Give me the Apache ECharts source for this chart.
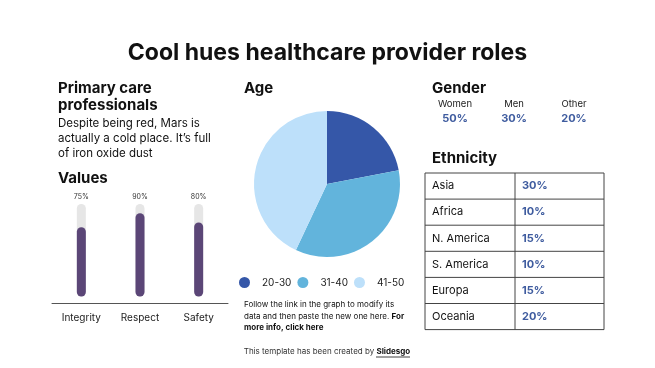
<!DOCTYPE html>
<html><head><meta charset="utf-8">
<script src="https://cdn.jsdelivr.net/npm/echarts@6/dist/echarts.min.js"></script>
<style>html,body{margin:0;padding:0;background:#fff}#c{width:655px;height:368px}</style>
</head><body><div id="c"></div>
<script>
const valueCategories = ['Integrity', 'Respect', 'Safety'];
const valueScores = [75, 90, 80];
const ageGroups = ['20-30', '31-40', '41-50'];
const ageShares = [22, 35, 43];
const genderLabels = ['Women', 'Men', 'Other'];
const genderShares = ['50%', '30%', '20%'];
const ethnicityNames = ['Asia', 'Africa', 'N. America', 'S. America', 'Europa', 'Oceania'];
const ethnicityShares = ['30%', '10%', '15%', '10%', '15%', '20%'];

const FONT = 'Inter';
const BLUE = '#3f5c9f';
const ageColors = ['#3557a8', '#62b4dc', '#bde0fa'];

const chart = echarts.init(document.getElementById('c'));
const graphics = [];
function txt(x, y, text, size, weight, color, align, extra) {
  graphics.push(Object.assign({
    type: 'text', x: x, y: y,
    style: Object.assign({text: text, font: (weight||'normal') + ' ' + size + 'px ' + FONT,
      fill: color || '#111', textAlign: align || 'left', textVerticalAlign: 'middle'}, extra || {})
  }));
}
// Left column
txt(58, 88, 'Primary care', 15, 'bold');
txt(58, 105, 'professionals', 15, 'bold');
txt(58, 124, 'Despite being red, Mars is', 11.5, 'normal');
txt(58, 139, 'actually a cold place. It\u2019s full', 11.5, 'normal');
txt(58, 154, 'of iron oxide dust', 11.5, 'normal');
txt(58, 178, 'Values', 15, 'bold');
// Age
txt(244, 88, 'Age', 15, 'bold');
graphics.push({type: 'text', x: 244, y: 299, style: {
  text: 'Follow the link in the graph to modify its\ndata and then paste the new one here. {b|For}\n{b|more info, click here}',
  font: 'normal 8px ' + FONT, fill: '#111', lineHeight: 11.5,
  rich: {b: {fontWeight: 'bold', fontSize: 8, fontFamily: FONT, fill: '#111', lineHeight: 11.5}}
}});
// Gender
txt(432, 88, 'Gender', 15, 'bold');
const gx = [455, 514, 574];
genderLabels.forEach((g, i) => {
  txt(gx[i], 104, g, 9.5, 'normal', '#222', 'center');
  txt(gx[i], 119, genderShares[i], 11, 'bold', BLUE, 'center');
});
// Ethnicity
txt(432, 158, 'Ethnicity', 15, 'bold');
const tL = 425, tR = 604, tM = 515, tT = 173, rowH = 26.1;
graphics.push({type: 'rect', shape: {x: tL, y: tT, width: tR - tL, height: rowH * ethnicityNames.length},
  style: {fill: 'none', stroke: '#444', lineWidth: 1}});
graphics.push({type: 'line', shape: {x1: tM, y1: tT, x2: tM, y2: tT + rowH * ethnicityNames.length},
  style: {stroke: '#444', lineWidth: 1}});
ethnicityNames.forEach((n, i) => {
  if (i > 0) graphics.push({type: 'line', shape: {x1: tL, y1: tT + rowH * i, x2: tR, y2: tT + rowH * i},
    style: {stroke: '#444', lineWidth: 1}});
  txt(432, tT + rowH * i + rowH / 2, n, 11, 'normal', '#111');
  txt(522, tT + rowH * i + rowH / 2, ethnicityShares[i], 11, 'bold', BLUE);
});
// Footer
graphics.push({type: 'text', x: 327, y: 352, style: {
  text: 'This template has been created by {b|Slidesgo}', font: 'normal 8px ' + FONT, fill: '#333',
  textAlign: 'center', textVerticalAlign: 'middle',
  rich: {b: {fontWeight: 'bold', fontSize: 8, fontFamily: FONT, fill: '#111'}}
}});
graphics.push({type: 'line', shape: {x1: 376, y1: 357, x2: 410, y2: 357}, style: {stroke: '#111', lineWidth: 0.8}});

chart.setOption({
  animation: false,
  title: {text: 'Cool hues healthcare provider roles', left: 'center', top: 37,
    textStyle: {fontFamily: FONT, fontWeight: 'bold', fontSize: 23, color: '#111'}},
  grid: {left: 52, right: 427, top: 204, bottom: 65},
  xAxis: {type: 'category', data: valueCategories,
    axisLine: {onZero: false, lineStyle: {color: '#555', width: 1}}, axisTick: {show: false},
    axisLabel: {fontFamily: FONT, fontSize: 10, color: '#222', margin: 10}},
  yAxis: {type: 'value', min: -7, max: 100, show: false, splitLine: {show: false}},
  legend: {data: ageGroups, left: 234, top: 272, icon: 'circle', itemWidth: 11, itemHeight: 11, itemGap: 6,
    textStyle: {fontFamily: FONT, fontSize: 10, color: '#222', padding: [0, 0, 0, 7]}},
  series: [
    {type: 'bar', data: valueCategories.map(() => 100), barWidth: 9, barGap: '-100%', silent: true,
      itemStyle: {color: '#e6e6e6', borderRadius: 5},
      label: {show: true, position: 'top', distance: 4, fontFamily: FONT, fontSize: 7, color: '#333',
        formatter: p => valueScores[p.dataIndex] + '%'}},
    {type: 'bar', data: valueScores, barWidth: 9,
      itemStyle: {color: '#5b4677', borderRadius: 5}},
    {type: 'pie', center: [327, 184], radius: 73, startAngle: 90, clockwise: true,
      label: {show: false}, labelLine: {show: false},
      data: ageGroups.map((g, i) => ({name: g, value: ageShares[i], itemStyle: {color: ageColors[i]}}))}
  ],
  graphic: graphics
});
</script></body></html>
